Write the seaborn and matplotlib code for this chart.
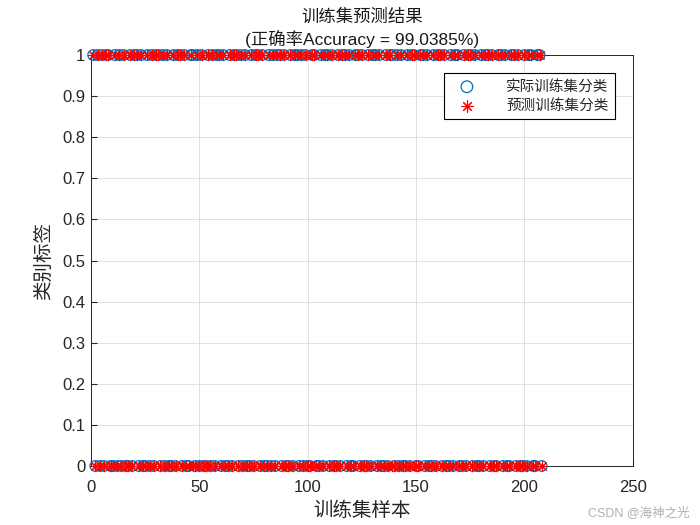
import numpy as np
import pandas as pd
import matplotlib
matplotlib.use('Agg')
import matplotlib.pyplot as plt
import seaborn as sns

# actual labels of the 208 training samples
y_true = [1,0,1,0,1,0,1,1,0,0,1,0,1,0,1,0,
          0,1,0,1,1,0,1,0,0,1,0,1,0,1,1,0,
          1,0,1,0,0,1,0,1,1,0,1,0,0,1,1,0,
          1,0,1,0,0,1,0,1,0,1,1,0,1,0,0,1,
          0,1,1,0,1,0,1,0,0,1,0,1,1,0,1,0,
          0,1,0,1,0,1,1,0,1,0,0,1,0,1,1,0,
          1,0,1,0,0,1,1,0,0,1,0,1,1,0,1,0,
          0,1,0,1,1,0,1,0,0,1,1,0,1,0,0,1,
          0,1,1,0,1,0,0,1,0,1,1,0,1,0,1,0,
          0,1,0,1,1,0,0,1,1,0,1,0,0,1,0,1,
          1,0,1,0,0,1,0,1,1,0,0,1,0,1,1,0,
          1,0,0,1,0,1,1,0,1,0,0,1,1,0,1,0,
          0,1,1,0,1,0,0,1,0,1,1,0,0,1,1,0]
# predicted labels (two samples misclassified)
y_pred = list(y_true)
y_pred[46] = 1 - y_pred[46]
y_pred[138] = 1 - y_pred[138]
sample_idx = list(range(1, len(y_true) + 1))
accuracy = 99.0385

df = pd.DataFrame({'idx': sample_idx, 'true': y_true, 'pred': y_pred})

sns.set_style('white')
plt.rcParams['font.family'] = ['Liberation Sans', 'Noto Sans CJK SC', 'DejaVu Sans']
plt.rcParams['axes.unicode_minus'] = False

fig = plt.figure(figsize=(7, 5.25), dpi=100)
ax = fig.add_axes([0.13, 0.1124, 0.774, 0.7828])

sns.scatterplot(data=df, x='idx', y='true', ax=ax, marker='o', s=58,
                facecolors='none', edgecolor='#0072BD', linewidth=0.9,
                label='实际训练集分类', clip_on=False, zorder=3)
sns.scatterplot(data=df, x='idx', y='pred', ax=ax, marker=(8, 2, 0), s=55,
                color='#FF0000', edgecolor='#FF0000', linewidth=0.8,
                label='预测训练集分类', clip_on=False, zorder=4)

ax.set_xlim(0, 250)
ax.set_ylim(0, 1)
ax.set_xticks(np.arange(0, 251, 50))
ax.set_yticks(np.arange(0, 1.01, 0.1))
ax.set_yticklabels(['0'] + ['%.1f' % v for v in np.arange(0.1, 0.95, 0.1)] + ['1'])
ax.grid(True, color='#dcdcdc', linewidth=0.6)
ax.tick_params(direction='in', length=4, labelsize=12, colors='#262626',
               top=False, right=False, bottom=True, left=True)
ax.tick_params(axis='x', pad=10)
ax.tick_params(axis='y', pad=4)
for sp in ax.spines.values():
    sp.set_color('#262626')
    sp.set_linewidth(0.7)

ax.set_xlabel('训练集样本', fontsize=14, color='#262626', labelpad=5)
ax.set_ylabel('类别标签', fontsize=14, color='#262626', labelpad=7)
ax.set_title('训练集预测结果\n(正确率Accuracy = %.4f%%)' % accuracy,
             fontsize=12.5, color='#1a1a1a', pad=7, linespacing=1.4)

leg = ax.legend(loc='upper right', bbox_to_anchor=(0.981, 0.974), fontsize=10.5,
                frameon=True, fancybox=False, edgecolor='black', framealpha=1,
                borderpad=0.45, handletextpad=1.6, labelspacing=0.35,
                handlelength=2.2, markerscale=1.1)
leg.get_frame().set_linewidth(0.8)

fig.text(0.985, 0.012, 'CSDN @海神之光', ha='right', va='bottom',
         fontsize=9, color='#b0b0b0')

plt.savefig('out.png', dpi=100)
